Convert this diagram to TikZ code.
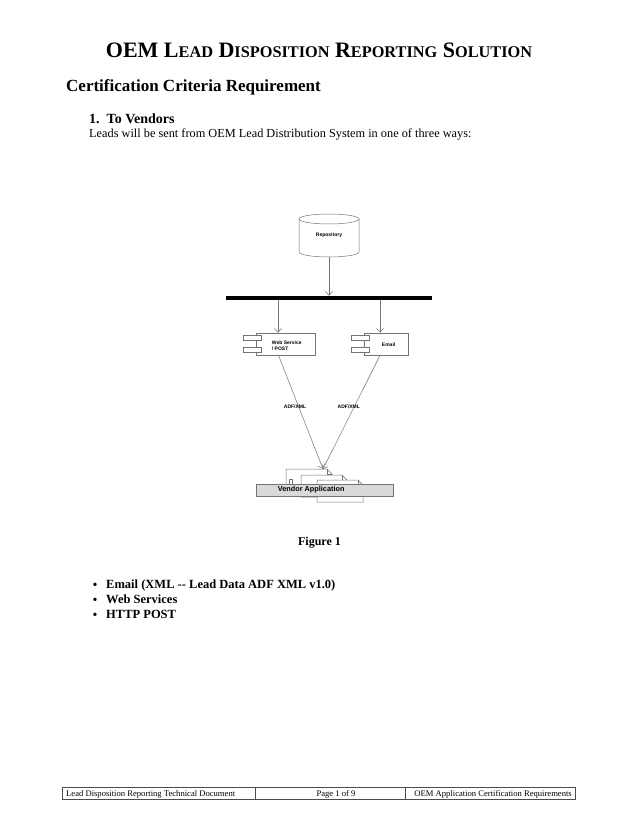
\documentclass[tikz,border=0pt]{standalone}
\usepackage{fontspec}
\setmainfont{Liberation Serif}
\newfontfamily\diagfont{Liberation Sans}
\usetikzlibrary{arrows.meta}

\begin{document}
\begin{tikzpicture}[x=1pt,y=-1pt,
    line/.style={draw=black!55, line width=0.5pt},
    conn/.style={line, -{Straight Barb[length=4pt,width=7pt]}},
    part/.style={line, fill=white, minimum width=18pt, minimum height=5pt, inner sep=0pt},
    body/.style={line, fill=white, minimum height=22pt, inner sep=0pt},
    tag/.style={font=\diagfont\bfseries\fontsize{5}{6}\selectfont, inner sep=0pt, align=left},
    txt/.style={inner sep=0pt, anchor=base west}]
    \useasboundingbox (0,0) rectangle (638,826);
    \fill[white] (0,0) rectangle (638,826);
    %Headings
    \node[inner sep=0pt, anchor=base] (title) at (319,58) {\bfseries
      \fontsize{22}{25}\selectfont OEM L{\fontsize{16.3}{18}\selectfont EAD}
      D{\fontsize{16.3}{18}\selectfont ISPOSITION} R{\fontsize{16.3}{18}\selectfont EPORTING}
      S{\fontsize{16.3}{18}\selectfont OLUTION}};
    \node[txt, font=\bfseries\fontsize{17}{20}\selectfont] (crit) at (66,92) {Certification Criteria Requirement};
    \node[txt, font=\bfseries\fontsize{14}{16}\selectfont] (vend) at (89,124) {1.\ \ To Vendors};
    \node[txt, font=\fontsize{12.3}{14}\selectfont] (intro) at (89,138) {Leads will be sent from OEM Lead Distribution System in one of three ways:};
    %Repository
    \draw[line, fill=white] (299,219) -- (299,252) arc[start angle=180, end angle=360, x radius=30pt, y radius=5pt] -- (359,219);
    \draw[line, fill=white] (329,219) ellipse[x radius=30pt, y radius=5pt];
    \node[tag, minimum width=60pt, minimum height=43pt] (repo) at (329,235.5) {Repository};
    %Bus
    \node[fill=black, minimum width=206pt, minimum height=4pt, inner sep=0pt] (bus) at (329,298) {};
    \draw[conn] (repo.south) -- (bus.north);
    %Components
    \node[body, minimum width=59pt] (ws) at (285.5,344) {};
    \node[body, minimum width=44pt] (mail) at (386,344) {};
    \foreach \c in {ws,mail} {
      \node[part] at ([xshift=-4pt, yshift=6pt]\c.west) {};
      \node[part] at ([xshift=-4pt, yshift=-6pt]\c.west) {};
    }
    \node[tag, anchor=west] (wslabel) at ([xshift=16pt, yshift=-1.5pt]ws.west) {Web Service\\/ POST};
    \node[tag, anchor=west] (maillabel) at ([xshift=18pt, yshift=-1pt]mail.west) {Email};
    \draw[conn] (bus.south -| 278,0) -- ([xshift=-7.5pt]ws.north);
    \draw[conn] (bus.south -| 380,0) -- ([xshift=-6pt]mail.north);
    %Vendor application
    \foreach \px/\py in {286/469, 301/475, 317/480} {
      \draw[line, fill=white] (\px,\py) -- ++(41,0) -- ++(5,5) -- ++(0,17) -- ++(-46,0) -- cycle;
      \draw[line] (\px+41,\py) -- ++(0,5) -- ++(5,0);
    }
    \draw[line] (289,484) -- (289,479) -- (292,479) -- (292,484);
    \node[line, fill=black!15, minimum width=137pt, minimum height=12pt, inner sep=0pt] (vapp) at (324.5,490) {};
    \node[tag, anchor=west, font=\diagfont\bfseries\fontsize{7.3}{8}\selectfont] (vlabel) at ([xshift=22pt]vapp.west) {Vendor Application};
    \coordinate (vtop) at (323,469);
    \draw[conn] ([xshift=-7pt]ws.south) -- (vtop) node[tag, pos=0.45, xshift=-3.5pt] {ADF/XML};
    \draw[conn] ([xshift=-6pt]mail.south) -- (vtop) node[tag, pos=0.45, xshift=-5.5pt] {ADF/XML};
    %Figure caption and list
    \node[inner sep=0pt, anchor=base, font=\bfseries\fontsize{12}{14}\selectfont] (fig) at (319.5,545) {Figure 1};
    \foreach \t [count=\i] in {Email (XML {-}{-} Lead Data ADF XML v1.0), Web Services, HTTP POST} {
      \node[txt, font=\fontsize{14}{16}\selectfont] (dot\i) at (92.5,574+15*\i) {\textbullet};
      \node[txt, font=\bfseries\fontsize{12.5}{14}\selectfont] (item\i) at (106,573+15*\i) {\t};
    }
    %Footer
    \draw[black!70, line width=0.7pt] (62,787) rectangle (575,799);
    \draw[black!70, line width=0.7pt] (255,787) -- (255,799);
    \draw[black!70, line width=0.7pt] (405,787) -- (405,799);
    \node[txt, font=\fontsize{8.6}{10}\selectfont] (foot1) at (66,796) {Lead Disposition Reporting Technical Document};
    \node[inner sep=0pt, anchor=base, font=\fontsize{8.6}{10}\selectfont] (foot2) at (336,796) {Page 1 of 9};
    \node[inner sep=0pt, anchor=base east, font=\fontsize{8.6}{10}\selectfont] (foot3) at (572,796) {OEM Application Certification Requirements};
  \end{tikzpicture}
\end{document}
